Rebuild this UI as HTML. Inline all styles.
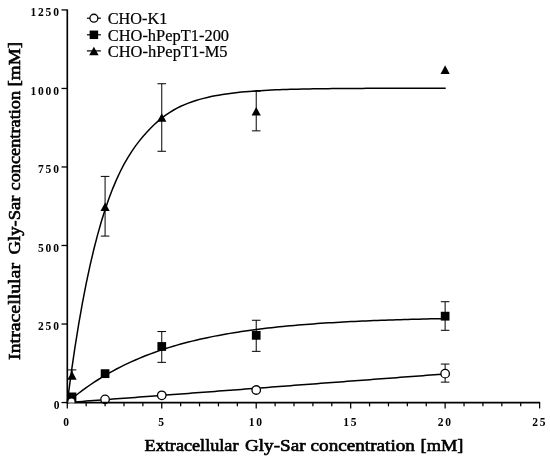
<!DOCTYPE html><html><head><meta charset="utf-8"><title>Gly-Sar uptake</title><style>html,body{margin:0;padding:0;background:#fff}svg{display:block}text{font-family:"Liberation Serif",serif;fill:#000}</style></head><body>
<svg width="550" height="460" viewBox="0 0 550 460">
<rect width="550" height="460" fill="#fff"/>
<text x="61.40" y="409.00" text-anchor="end" font-size="11.5" font-weight="bold" letter-spacing="1.8">0</text>
<text x="60.70" y="330.18" text-anchor="end" font-size="11.5" font-weight="bold" letter-spacing="1.8">250</text>
<text x="60.70" y="251.65" text-anchor="end" font-size="11.5" font-weight="bold" letter-spacing="1.8">500</text>
<text x="60.70" y="173.13" text-anchor="end" font-size="11.5" font-weight="bold" letter-spacing="1.8">750</text>
<text x="60.70" y="94.60" text-anchor="end" font-size="11.5" font-weight="bold" letter-spacing="1.8">1000</text>
<text x="60.70" y="16.08" text-anchor="end" font-size="11.5" font-weight="bold" letter-spacing="1.8">1250</text>
<text x="67.15" y="426.0" text-anchor="middle" font-size="11.5" font-weight="bold" letter-spacing="1.8">0</text>
<text x="161.91" y="426.0" text-anchor="middle" font-size="11.5" font-weight="bold" letter-spacing="1.8">5</text>
<text x="256.37" y="426.0" text-anchor="middle" font-size="11.5" font-weight="bold" letter-spacing="1.8">10</text>
<text x="350.83" y="426.0" text-anchor="middle" font-size="11.5" font-weight="bold" letter-spacing="1.8">15</text>
<text x="445.29" y="426.0" text-anchor="middle" font-size="11.5" font-weight="bold" letter-spacing="1.8">20</text>
<text x="539.75" y="426.0" text-anchor="middle" font-size="11.5" font-weight="bold" letter-spacing="1.8">25</text>
<g font-size="16.3" stroke="#000" stroke-width="0.6" stroke-linejoin="round">
<text x="144.60" y="451.1" textLength="93.90" lengthAdjust="spacingAndGlyphs">Extracellular</text>
<text x="245.00" y="451.1" textLength="60.50" lengthAdjust="spacingAndGlyphs">Gly-Sar</text>
<text x="310.60" y="451.1" textLength="104.30" lengthAdjust="spacingAndGlyphs">concentration</text>
<text x="420.60" y="451.1" textLength="42.80" lengthAdjust="spacingAndGlyphs">[mM]</text>
<text transform="translate(20.3,359.90) rotate(-90)" textLength="96.90" lengthAdjust="spacingAndGlyphs">Intracellular</text>
<text transform="translate(20.3,254.40) rotate(-90)" textLength="58.80" lengthAdjust="spacingAndGlyphs">Gly-Sar</text>
<text transform="translate(20.3,190.40) rotate(-90)" textLength="99.50" lengthAdjust="spacingAndGlyphs">concentration</text>
<text transform="translate(20.3,86.50) rotate(-90)" textLength="44.50" lengthAdjust="spacingAndGlyphs">[mM]</text>
</g>
<g stroke="#000" stroke-width="1.5" fill="none">
<path d="M67.30 402.55 L71.08 373.96 L74.87 347.98 L78.65 324.35 L82.44 302.88 L86.22 283.36 L90.00 265.61 L93.79 249.49 L97.57 234.84 L101.36 221.53 L105.14 209.45 L108.92 198.50 L112.71 188.59 L116.49 179.62 L120.28 171.52 L124.06 164.20 L127.85 157.59 L131.63 151.59 L135.41 146.11 L139.20 141.10 L142.98 136.47 L146.77 132.17 L150.55 128.19 L154.33 124.49 L158.12 121.09 L161.90 117.96 L165.69 115.12 L169.47 112.55 L173.25 110.24 L177.04 108.16 L180.82 106.29 L184.61 104.61 L188.39 103.10 L192.17 101.73 L195.96 100.50 L199.74 99.37 L203.53 98.36 L207.31 97.43 L211.09 96.59 L214.88 95.83 L218.66 95.14 L222.45 94.50 L226.23 93.93 L230.01 93.41 L233.80 92.94 L237.58 92.51 L241.37 92.11 L245.15 91.76 L248.94 91.43 L252.72 91.14 L256.50 90.87 L260.29 90.63 L264.07 90.41 L267.86 90.21 L271.64 90.02 L275.42 89.86 L279.21 89.71 L282.99 89.57 L286.78 89.45 L290.56 89.33 L294.34 89.23 L298.13 89.14 L301.91 89.05 L305.70 88.97 L309.48 88.90 L313.26 88.84 L317.05 88.78 L320.83 88.73 L324.62 88.68 L328.40 88.64 L332.18 88.60 L335.97 88.56 L339.75 88.53 L343.54 88.50 L347.32 88.47 L351.11 88.45 L354.89 88.42 L358.67 88.40 L362.46 88.38 L366.24 88.37 L370.03 88.35 L373.81 88.34 L377.59 88.33 L381.38 88.31 L385.16 88.30 L388.95 88.29 L392.73 88.29 L396.51 88.28 L400.30 88.27 L404.08 88.26 L407.87 88.26 L411.65 88.25 L415.43 88.25 L419.22 88.24 L423.00 88.24 L426.79 88.24 L430.57 88.23 L434.35 88.23 L438.14 88.23 L441.92 88.22 L445.71 88.22"/>
<path d="M67.30 402.55 L71.08 399.34 L74.87 396.25 L78.65 393.28 L82.44 390.42 L86.22 387.66 L90.00 385.01 L93.79 382.46 L97.57 380.00 L101.36 377.64 L105.14 375.36 L108.92 373.17 L112.71 371.06 L116.49 369.02 L120.28 367.07 L124.06 365.18 L127.85 363.37 L131.63 361.63 L135.41 359.95 L139.20 358.33 L142.98 356.77 L146.77 355.27 L150.55 353.83 L154.33 352.44 L158.12 351.11 L161.90 349.82 L165.69 348.58 L169.47 347.39 L173.25 346.24 L177.04 345.14 L180.82 344.07 L184.61 343.05 L188.39 342.06 L192.17 341.11 L195.96 340.20 L199.74 339.32 L203.53 338.47 L207.31 337.66 L211.09 336.87 L214.88 336.12 L218.66 335.39 L222.45 334.69 L226.23 334.02 L230.01 333.37 L233.80 332.74 L237.58 332.14 L241.37 331.56 L245.15 331.01 L248.94 330.47 L252.72 329.95 L256.50 329.46 L260.29 328.98 L264.07 328.52 L267.86 328.07 L271.64 327.65 L275.42 327.24 L279.21 326.84 L282.99 326.46 L286.78 326.09 L290.56 325.74 L294.34 325.40 L298.13 325.07 L301.91 324.76 L305.70 324.46 L309.48 324.16 L313.26 323.88 L317.05 323.61 L320.83 323.35 L324.62 323.10 L328.40 322.86 L332.18 322.63 L335.97 322.41 L339.75 322.19 L343.54 321.98 L347.32 321.78 L351.11 321.59 L354.89 321.41 L358.67 321.23 L362.46 321.06 L366.24 320.89 L370.03 320.73 L373.81 320.58 L377.59 320.43 L381.38 320.29 L385.16 320.16 L388.95 320.03 L392.73 319.90 L396.51 319.78 L400.30 319.66 L404.08 319.55 L407.87 319.44 L411.65 319.34 L415.43 319.23 L419.22 319.14 L423.00 319.04 L426.79 318.96 L430.57 318.87 L434.35 318.79 L438.14 318.71 L441.92 318.63 L445.71 318.55"/>
<path d="M67.30 402.55 L71.08 402.26 L74.87 401.98 L78.65 401.69 L82.44 401.40 L86.22 401.12 L90.00 400.83 L93.79 400.55 L97.57 400.26 L101.36 399.97 L105.14 399.69 L108.92 399.40 L112.71 399.11 L116.49 398.83 L120.28 398.54 L124.06 398.26 L127.85 397.97 L131.63 397.68 L135.41 397.40 L139.20 397.11 L142.98 396.82 L146.77 396.54 L150.55 396.25 L154.33 395.97 L158.12 395.68 L161.90 395.39 L165.69 395.11 L169.47 394.82 L173.25 394.53 L177.04 394.25 L180.82 393.96 L184.61 393.68 L188.39 393.39 L192.17 393.10 L195.96 392.82 L199.74 392.53 L203.53 392.24 L207.31 391.96 L211.09 391.67 L214.88 391.39 L218.66 391.10 L222.45 390.81 L226.23 390.53 L230.01 390.24 L233.80 389.95 L237.58 389.67 L241.37 389.38 L245.15 389.10 L248.94 388.81 L252.72 388.52 L256.50 388.24 L260.29 387.95 L264.07 387.66 L267.86 387.38 L271.64 387.09 L275.42 386.81 L279.21 386.52 L282.99 386.23 L286.78 385.95 L290.56 385.66 L294.34 385.37 L298.13 385.09 L301.91 384.80 L305.70 384.52 L309.48 384.23 L313.26 383.94 L317.05 383.66 L320.83 383.37 L324.62 383.08 L328.40 382.80 L332.18 382.51 L335.97 382.23 L339.75 381.94 L343.54 381.65 L347.32 381.37 L351.11 381.08 L354.89 380.79 L358.67 380.51 L362.46 380.22 L366.24 379.94 L370.03 379.65 L373.81 379.36 L377.59 379.08 L381.38 378.79 L385.16 378.50 L388.95 378.22 L392.73 377.93 L396.51 377.65 L400.30 377.36 L404.08 377.07 L407.87 376.79 L411.65 376.50 L415.43 376.21 L419.22 375.93 L423.00 375.64 L426.79 375.36 L430.57 375.07 L434.35 374.78 L438.14 374.50 L441.92 374.21 L445.71 373.92"/>
</g>
<path d="M72.02 373.02 V369.88 M67.72 369.88 h8.6" stroke="#000" stroke-width="1" fill="none"/>
<path d="M105.08 236.08 V176.40 M100.78 176.40 h8.6 M100.78 236.08 h8.6" stroke="#000" stroke-width="1" fill="none"/>
<path d="M161.76 151.27 V83.74 M157.46 83.74 h8.6 M157.46 151.27 h8.6" stroke="#000" stroke-width="1" fill="none"/>
<path d="M256.22 130.85 V91.28 M251.92 91.28 h8.6 M251.92 130.85 h8.6" stroke="#000" stroke-width="1" fill="none"/>
<path d="M161.76 362.35 V331.56 M157.46 331.56 h8.6 M157.46 362.35 h8.6" stroke="#000" stroke-width="1" fill="none"/>
<path d="M256.22 351.35 V320.26 M251.92 320.26 h8.6 M251.92 351.35 h8.6" stroke="#000" stroke-width="1" fill="none"/>
<path d="M445.14 330.31 V301.72 M440.84 301.72 h8.6 M440.84 330.31 h8.6" stroke="#000" stroke-width="1" fill="none"/>
<path d="M445.14 382.13 V364.07 M440.84 364.07 h8.6 M440.84 382.13 h8.6" stroke="#000" stroke-width="1" fill="none"/>
<path d="M72.02 371.07 L76.62 379.67 H67.42 Z" fill="#000"/>
<path d="M105.08 202.39 L109.68 210.99 H100.48 Z" fill="#000"/>
<path d="M161.76 113.19 L166.36 121.79 H157.16 Z" fill="#000"/>
<path d="M256.22 106.91 L260.82 115.51 H251.62 Z" fill="#000"/>
<path d="M445.14 65.29 L449.74 73.89 H440.54 Z" fill="#000"/>
<rect x="67.67" y="392.50" width="8.7" height="8.8" fill="#000"/>
<rect x="100.73" y="369.25" width="8.7" height="8.8" fill="#000"/>
<rect x="157.41" y="342.08" width="8.7" height="8.8" fill="#000"/>
<rect x="251.87" y="330.93" width="8.7" height="8.8" fill="#000"/>
<rect x="440.79" y="311.77" width="8.7" height="8.8" fill="#000"/>
<circle cx="105.08" cy="399.41" r="4.25" fill="#fff" stroke="#000" stroke-width="1.3"/>
<circle cx="161.76" cy="395.33" r="4.25" fill="#fff" stroke="#000" stroke-width="1.3"/>
<circle cx="256.22" cy="389.99" r="4.25" fill="#fff" stroke="#000" stroke-width="1.3"/>
<circle cx="445.14" cy="373.65" r="4.25" fill="#fff" stroke="#000" stroke-width="1.3"/>
<g stroke="#000" fill="none" stroke-linecap="butt">
<path d="M67.3 9.38 V402.55 H540.15" stroke-width="1.65" stroke-linejoin="miter"/>
<path d="M67.3 402.55 h-5.8" stroke-width="1.3"/>
<path d="M67.3 324.03 h-5.8" stroke-width="1.3"/>
<path d="M67.3 245.50 h-5.8" stroke-width="1.3"/>
<path d="M67.3 166.98 h-5.8" stroke-width="1.3"/>
<path d="M67.3 88.45 h-5.8" stroke-width="1.3"/>
<path d="M67.3 9.93 h-5.8" stroke-width="1.3"/>
<path d="M67.30 402.55 v5.9" stroke-width="1.25"/>
<path d="M86.19 402.55 v3.8" stroke-width="1.25"/>
<path d="M105.08 402.55 v3.8" stroke-width="1.25"/>
<path d="M123.98 402.55 v3.8" stroke-width="1.25"/>
<path d="M142.87 402.55 v3.8" stroke-width="1.25"/>
<path d="M161.76 402.55 v5.9" stroke-width="1.25"/>
<path d="M180.65 402.55 v3.8" stroke-width="1.25"/>
<path d="M199.54 402.55 v3.8" stroke-width="1.25"/>
<path d="M218.44 402.55 v3.8" stroke-width="1.25"/>
<path d="M237.33 402.55 v3.8" stroke-width="1.25"/>
<path d="M256.22 402.55 v5.9" stroke-width="1.25"/>
<path d="M275.11 402.55 v3.8" stroke-width="1.25"/>
<path d="M294.00 402.55 v3.8" stroke-width="1.25"/>
<path d="M312.90 402.55 v3.8" stroke-width="1.25"/>
<path d="M331.79 402.55 v3.8" stroke-width="1.25"/>
<path d="M350.68 402.55 v5.9" stroke-width="1.25"/>
<path d="M369.57 402.55 v3.8" stroke-width="1.25"/>
<path d="M388.46 402.55 v3.8" stroke-width="1.25"/>
<path d="M407.36 402.55 v3.8" stroke-width="1.25"/>
<path d="M426.25 402.55 v3.8" stroke-width="1.25"/>
<path d="M445.14 402.55 v5.9" stroke-width="1.25"/>
<path d="M464.03 402.55 v3.8" stroke-width="1.25"/>
<path d="M482.92 402.55 v3.8" stroke-width="1.25"/>
<path d="M501.82 402.55 v3.8" stroke-width="1.25"/>
<path d="M520.71 402.55 v3.8" stroke-width="1.25"/>
<path d="M539.60 402.55 v5.9" stroke-width="1.25"/>
</g>
<clipPath id="c0"><rect x="60" y="380" width="30" height="23.3"/></clipPath>
<g clip-path="url(#c0)"><circle cx="71.42" cy="401.6" r="3.6" fill="#fff" stroke="#000" stroke-width="1.2"/><path d="M68.42 402.6 h6" stroke="#999" stroke-width="1.2"/></g>
<path d="M86.9 18.2 h14" stroke="#000" stroke-width="1.2"/>
<circle cx="93.9" cy="18.2" r="3.95" fill="#fff" stroke="#000" stroke-width="1.3"/>
<text x="107.7" y="24.0" font-size="16.2" stroke="#000" stroke-width="0.2" textLength="59.6" lengthAdjust="spacingAndGlyphs">CHO-K1</text>
<path d="M86.9 34.8 h14" stroke="#000" stroke-width="1.2"/>
<rect x="89.65" y="30.549999999999997" width="8.5" height="8.5" fill="#000"/>
<text x="107.7" y="40.5" font-size="16.2" stroke="#000" stroke-width="0.2" textLength="121.4" lengthAdjust="spacingAndGlyphs">CHO-hPepT1-200</text>
<path d="M86.9 50.9 h14" stroke="#000" stroke-width="1.2"/>
<path d="M93.9 46.70 l4.7 8.6 h-9.4 Z" fill="#000"/>
<text x="107.7" y="56.8" font-size="16.2" stroke="#000" stroke-width="0.2" textLength="119.9" lengthAdjust="spacingAndGlyphs">CHO-hPepT1-M5</text>
</svg></body></html>
